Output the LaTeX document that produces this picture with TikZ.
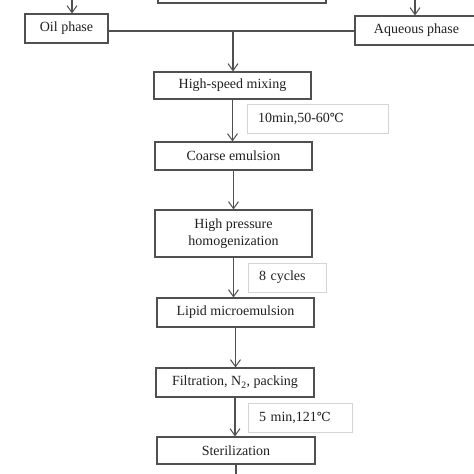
\documentclass[tikz,border=0pt]{standalone}
\usepackage{fontspec}
\setmainfont{Liberation Serif}
\newfontfamily\symfont{DejaVu Serif}
\usetikzlibrary{arrows.meta}
\definecolor{ln}{HTML}{505050}
\definecolor{nb}{HTML}{D4D4D4}
\definecolor{tx}{HTML}{202020}
\begin{document}
\begin{tikzpicture}[x=1pt,y=-1pt,
  stepbox/.style={draw=ln,line width=1.1pt,fill=white,inner sep=0pt,align=center,text=tx,font=\fontsize{14}{15}\selectfont},
  notebox/.style={draw=nb,line width=0.8pt,fill=white,inner sep=0pt,text=tx,font=\fontsize{14}{15}\selectfont},
  flow/.style={draw=ln,line width=1.1pt,-{Straight Barb[length=7pt,width=10pt,line width=1pt]}},
  plain/.style={draw=ln,line width=1.1pt}]
\useasboundingbox (0,0) rectangle (474,474);
\fill[white] (0,0) rectangle (474,474);
\begin{scope}
\clip (0,0) rectangle (474,474);
\node[stepbox,minimum width=168pt,minimum height=30pt] (top) at (242,-12) {};
\node[stepbox,minimum width=83pt,minimum height=29pt] (oil) at (66.5,28.5) {Oil phase};
\node[stepbox,minimum width=123pt,minimum height=29pt] (aq) at (416.5,30.5) {Aqueous phase};
\coordinate (inoil) at (72,-2);
\coordinate (inaq) at (415,-2);
\coordinate (j) at (233,31);
\node[stepbox,minimum width=157pt,minimum height=27pt] (mix) at (232.5,85.5) {High-speed mixing};
\node[notebox,minimum width=141pt,minimum height=29pt,text width=119pt,align=left] (n1) at (317.5,118.5) {10min,50-60{\symfont\fontsize{12.5}{15}\selectfont ℃}};
\node[stepbox,minimum width=157pt,minimum height=28pt] (coarse) at (233.5,156) {Coarse emulsion};
\node[stepbox,minimum width=157pt,minimum height=47pt,font=\fontsize{14}{17}\selectfont] (hph) at (233.5,233.5) {High pressure\\homogenization};
\node[notebox,minimum width=78pt,minimum height=29pt,text width=56pt,align=left] (n2) at (287,277.5) {8 cycles};
\node[stepbox,minimum width=157pt,minimum height=29pt] (lipid) at (235.5,312.5) {Lipid microemulsion};
\node[stepbox,minimum width=158pt,minimum height=29pt] (filt) at (235,382.5) {Filtration, N\textsubscript{2}, packing};
\node[notebox,minimum width=104pt,minimum height=29pt,text width=82pt,align=left] (n3) at (300,417.5) {5 min,121{\symfont\fontsize{12.5}{15}\selectfont ℃}};
\node[stepbox,minimum width=158pt,minimum height=27pt] (ster) at (236,450.5) {Sterilization};
\coordinate (out) at (236,480);
\draw[flow] (inoil) -- (inoil |- oil.north);
\draw[flow] (inaq) -- (inaq |- aq.north);
\draw[plain] (oil.east |- j) -- (aq.west |- j);
\draw[flow] (j) -- (j |- mix.north);
\draw[flow] (mix.south) -- (mix.south |- coarse.north);
\draw[flow] (coarse.south) -- (coarse.south |- hph.north);
\draw[flow] (hph.south) -- (hph.south |- lipid.north);
\draw[flow] (lipid.south) -- (lipid.south |- filt.north);
\draw[flow] (filt.south) -- (filt.south |- ster.north);
\draw[plain] (ster.south) -- (out);
\end{scope}
\end{tikzpicture}
\end{document}
